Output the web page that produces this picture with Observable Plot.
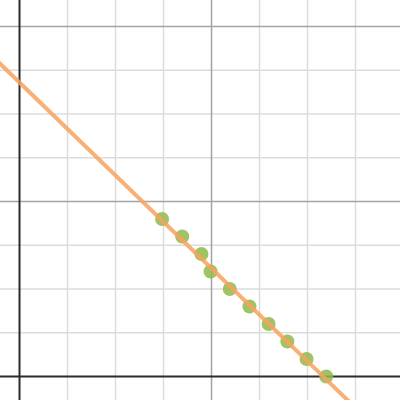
<!DOCTYPE html>
<html>
<head>
<meta charset="utf-8">
<script src="https://cdn.jsdelivr.net/npm/d3@7"></script>
<script src="https://cdn.jsdelivr.net/npm/@observablehq/plot@0.6"></script>
<style>
  html, body { margin: 0; padding: 0; background: #fff; }
  svg { display: block; }
</style>
</head>
<body>
<div id="chart"></div>
<script>
// Data points
const pointX = [2.97, 3.39, 3.79, 3.98, 4.38, 4.79, 5.19, 5.58, 5.98, 6.39];
const pointY = [3.6, 3.2, 2.8, 2.4, 2.0, 1.6, 1.2, 0.8, 0.4, 0.0];
// Fitted line endpoints
const lineX = [-0.5, 8.2];
const lineY = [7.25, -1.99];
// Grid
const minorX = [1, 2, 3, 5, 6, 7, 8];
const majorX = [4];
const minorY = [1, 2, 3, 5, 6, 7];
const majorY = [4, 8];
const axisX = [0];
const axisY = [0];

const points = pointX.map((x, i) => ({x, y: pointY[i]}));
const line = lineX.map((x, i) => ({x, y: lineY[i]}));

const chart = Plot.plot({
  width: 400,
  height: 400,
  margin: 0,
  x: {domain: [-0.396, 7.937], axis: null},
  y: {domain: [-0.549, 8.594], axis: null},
  marks: [
    Plot.ruleX(minorX, {stroke: "#dcdcdc", strokeWidth: 1.5}),
    Plot.ruleY(minorY, {stroke: "#dcdcdc", strokeWidth: 1.5}),
    Plot.ruleX(majorX, {stroke: "#a3a3a3", strokeWidth: 1.5}),
    Plot.ruleY(majorY, {stroke: "#a3a3a3", strokeWidth: 1.5}),
    Plot.ruleX(axisX, {stroke: "#2b2b2b", strokeWidth: 2}),
    Plot.ruleY(axisY, {stroke: "#2b2b2b", strokeWidth: 2}),
    Plot.dot(points, {x: "x", y: "y", r: 7, fill: "#8fb84a", fillOpacity: 0.85, stroke: "none"}),
    Plot.line(line, {x: "x", y: "y", stroke: "#f7a25e", strokeOpacity: 0.85, strokeWidth: 4})
  ]
});
document.getElementById("chart").appendChild(chart);
</script>
</body>
</html>
